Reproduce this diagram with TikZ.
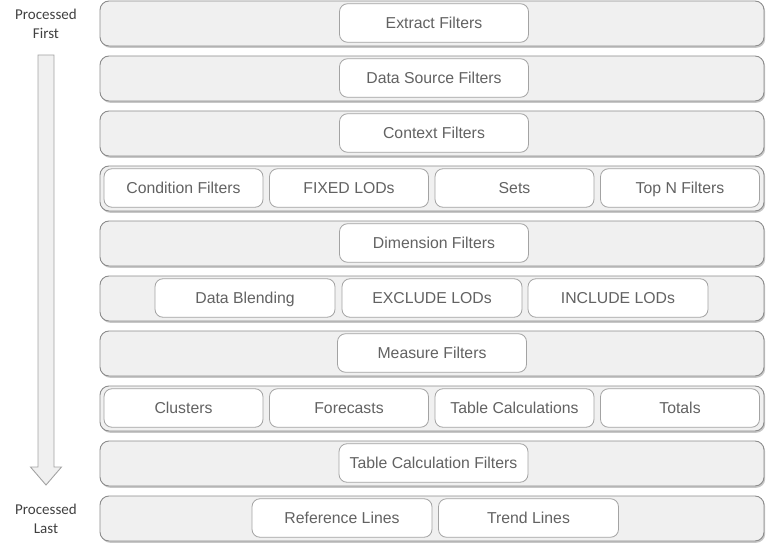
\documentclass[tikz,border=0pt]{standalone}
\usepackage{fontspec}
\setmainfont{Liberation Sans}
\newfontfamily\labelfont{Carlito}
\usetikzlibrary{shadows}
\definecolor{barfill}{HTML}{F0F0F0}
\definecolor{barline}{HTML}{8C8C8C}
\definecolor{boxline}{HTML}{A3A3A3}
\definecolor{txt}{HTML}{626262}
\definecolor{lbl}{HTML}{404040}
\begin{document}
\begin{tikzpicture}[x=1pt,y=-1pt]
\tikzset{
  bar/.style={draw=barline, fill=barfill, rounded corners=9pt, minimum width=664pt,
    minimum height=45pt, line width=0.9pt, inner sep=0pt,
    drop shadow={shadow xshift=1.2pt, shadow yshift=-1.8pt, opacity=0.22, fill=black}},
  fbox/.style={draw=boxline, fill=white, rounded corners=8pt, minimum height=38.5pt,
    text=txt, font=\fontsize{15.8}{19}\selectfont, line width=0.8pt, inner sep=0pt,
    text height=11.4pt, text depth=0pt},
  wsingle/.style={fbox, minimum width=189pt},
  wthree/.style={fbox, minimum width=180pt},
  wfour/.style={fbox, minimum width=159pt},
  sidelabel/.style={align=center, text=lbl, font=\labelfont\fontsize{15}{19}\selectfont, inner sep=0pt},
  flowarrow/.style={draw=boxline, fill=barfill, line width=0.9pt}
}
\useasboundingbox (0,0) rectangle (768,548);

% bars
\node[bar] (b1)  at (432,23.5)  {};
\node[bar] (b2)  at (432,78.5)  {};
\node[bar] (b3)  at (432,133.5) {};
\node[bar] (b4)  at (432,188.5) {};
\node[bar] (b5)  at (432,243.5) {};
\node[bar] (b6)  at (432,298.5) {};
\node[bar] (b7)  at (432,353.5) {};
\node[bar] (b8)  at (432,408.5) {};
\node[bar] (b9)  at (432,463.5) {};
\node[bar] (b10) at (432,518.5) {};

% row boxes
\node[wsingle] (extract) at (434,23)  {Extract Filters};
\node[wsingle] (dsource) at (434,78)  {Data Source Filters};
\node[wsingle] (context) at (434,133) {Context Filters};

\node[wfour] (cond)  at (183.5,188) {Condition Filters};
\node[wfour] (fixed) at (349,188)   {FIXED LODs};
\node[wfour] (sets)  at (514.5,188) {Sets};
\node[wfour] (topn)  at (680,188)   {Top N Filters};

\node[wsingle] (dimf) at (434,243) {Dimension Filters};

\node[wthree] (blend) at (245,298) {Data Blending};
\node[wthree] (excl)  at (432,298) {EXCLUDE LODs};
\node[wthree] (incl)  at (618,298) {INCLUDE LODs};

\node[wsingle] (measf) at (432,353) {Measure Filters};

\node[wfour] (clus)  at (183.5,408) {Clusters};
\node[wfour] (fore)  at (349,408)   {Forecasts};
\node[wfour] (tcalc) at (514.5,408) {Table Calculations};
\node[wfour] (tot)   at (680,408)   {Totals};

\node[wsingle] (tcf) at (433.5,463) {Table Calculation Filters};

\node[wthree] (refl)  at (342,518) {Reference Lines};
\node[wthree] (trend) at (528.5,518) {Trend Lines};

% side labels
\node[sidelabel] (first) at (46,23.5) {Processed\\First};
\node[sidelabel] (last)  at (46,519)  {Processed\\Last};

% arrow
\draw[flowarrow] (38,55) -- (54,55) -- (54,467) -- (61.5,467) -- (46,485)
  -- (30.5,467) -- (38,467) -- cycle;
\end{tikzpicture}
\end{document}
